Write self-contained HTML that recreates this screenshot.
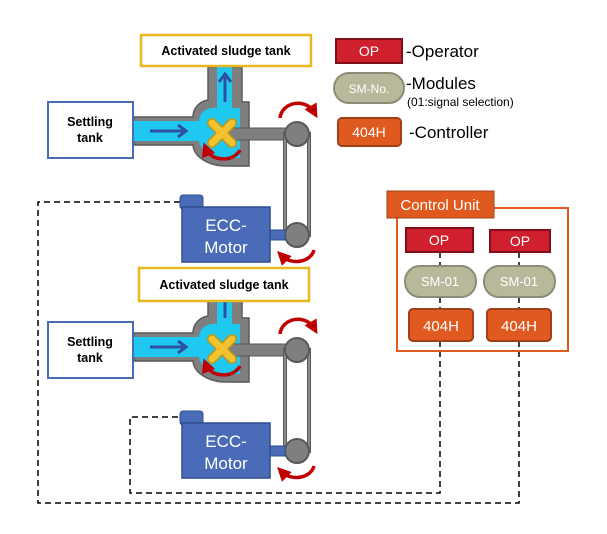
<!DOCTYPE html>
<html><head><style>body{margin:0;background:#fff}svg{display:block}</style></head><body>
<svg width="607" height="534" viewBox="0 0 607 534" xmlns="http://www.w3.org/2000/svg" font-family="Liberation Sans, Arial, sans-serif">
<defs>
<marker id="ah" viewBox="0 0 10 10" refX="5" refY="5" markerWidth="4" markerHeight="4" orient="auto"><path d="M0,0L10,5L0,10z" fill="#c00000"/></marker>
<g id="unit">
  <!-- pipes -->
  <path d="M134,117 H193 A18,17 0 0 1 208,100 V67 H242 V102 H249 V166 H226 A33,22 0 0 1 193,145 H134 Z" fill="#7f7f7f" stroke="#595959" stroke-width="1.5"/>
  <path d="M134,121 H199 A15,13 0 0 1 217,108 V67 H232 V108 H240 V158 H228 A28,18 0 0 1 199,141 H134 Z" fill="#1ec8f0"/>
  <line x1="150" y1="131" x2="183" y2="131" stroke="#2f4f9f" stroke-width="3"/>
  <path d="M178,125 L186,131 L178,137" fill="none" stroke="#2f4f9f" stroke-width="3"/>
  <line x1="225" y1="102" x2="225" y2="77" stroke="#2f4f9f" stroke-width="3"/>
  <path d="M219,82 L225,74 L231,82" fill="none" stroke="#2f4f9f" stroke-width="3"/>
  <!-- shaft -->
  <rect x="225" y="128" width="72" height="12" fill="#7f7f7f" stroke="#595959"/>
  <!-- belt -->
  <rect x="285" y="134" width="24" height="101" fill="none" stroke="#595959" stroke-width="4"/>
  <rect x="285" y="134" width="24" height="101" fill="none" stroke="#8c8c8c" stroke-width="2"/>
  <circle cx="297" cy="134" r="12" fill="#7f7f7f" stroke="#595959" stroke-width="2"/>
  <circle cx="297" cy="235" r="12" fill="#7f7f7f" stroke="#595959" stroke-width="2"/>
  <!-- X -->
  <path d="M212,123 L232,143 M232,123 L212,143" stroke="#b8961a" stroke-width="10" stroke-linecap="round"/>
  <path d="M212,123 L232,143 M232,123 L212,143" stroke="#f2c230" stroke-width="7" stroke-linecap="round"/>
  <!-- red arrows -->
  <path d="M280,118 A18,16 0 0 1 314,112" fill="none" stroke="#c00000" stroke-width="3.5" marker-end="url(#ah)"/>
  <path d="M240,150 A18,14 0 0 1 206,149" fill="none" stroke="#c00000" stroke-width="3.5" marker-end="url(#ah)"/>
  <path d="M314,250 A18,14 0 0 1 282,256" fill="none" stroke="#c00000" stroke-width="3.5" marker-end="url(#ah)"/>
  <!-- motor -->
  <rect x="268" y="230" width="17" height="10" fill="#4a6cb8" stroke="#2f4f8f"/>
  <rect x="180" y="195" width="23" height="14" rx="3" fill="#4a6cb8" stroke="#2f4f8f"/>
  <rect x="182" y="207" width="88" height="55" fill="#4a6cb8" stroke="#2f4f8f" stroke-width="1.5"/>
  <text x="226" y="231" font-size="17" fill="#fff" text-anchor="middle">ECC-</text>
  <text x="226" y="253" font-size="17" fill="#fff" text-anchor="middle">Motor</text>
</g>
</defs>
<!-- dashed lines -->
<g fill="none" stroke="#000" stroke-width="1.5" stroke-dasharray="6,4">
  <path d="M180,202 H38 V503 H519 V341"/>
  <path d="M178,417 H130 V493 H440 V341"/>
  <path d="M440,252 V266 M440,297 V308 M519,252 V266 M519,297 V308"/>
</g>
<use href="#unit"/>
<use href="#unit" transform="translate(0,216)"/>
<!-- boxes -->
<rect x="141" y="35" width="170" height="31" fill="#fff" stroke="#e8b820" stroke-width="2.5"/>
<text x="226" y="55" font-size="12.5" font-weight="bold" text-anchor="middle">Activated sludge tank</text>
<rect x="48" y="102" width="85" height="56" fill="#fff" stroke="#4a6cb8" stroke-width="2"/>
<text x="90" y="126" font-size="12.5" font-weight="bold" text-anchor="middle">Settling</text>
<text x="90" y="142" font-size="12.5" font-weight="bold" text-anchor="middle">tank</text>
<rect x="139" y="268" width="170" height="33" fill="#fff" stroke="#e8b820" stroke-width="2.5"/>
<text x="224" y="289" font-size="12.5" font-weight="bold" text-anchor="middle">Activated sludge tank</text>
<rect x="48" y="322" width="85" height="56" fill="#fff" stroke="#4a6cb8" stroke-width="2"/>
<text x="90" y="346" font-size="12.5" font-weight="bold" text-anchor="middle">Settling</text>
<text x="90" y="362" font-size="12.5" font-weight="bold" text-anchor="middle">tank</text>
<!-- legend -->
<rect x="336" y="39" width="66" height="24" fill="#d0202e" stroke="#7f1018" stroke-width="2"/>
<text x="369" y="56" font-size="14" fill="#fff" text-anchor="middle">OP</text>
<text x="406" y="57" font-size="17">-Operator</text>
<rect x="334" y="73" width="70" height="30" rx="15" fill="#b8b89a" stroke="#8c8c78" stroke-width="2"/>
<text x="369" y="93" font-size="12" fill="#fff" text-anchor="middle">SM-No.</text>
<text x="406" y="89" font-size="17">-Modules</text>
<text x="407" y="106" font-size="12">(01:signal selection)</text>
<rect x="338" y="118" width="63" height="28" rx="4" fill="#e05a20" stroke="#a0401a" stroke-width="2"/>
<text x="369" y="137" font-size="14" fill="#fff" text-anchor="middle">404H</text>
<text x="409" y="138" font-size="17">-Controller</text>
<!-- control unit -->
<rect x="397" y="208" width="171" height="143" fill="none" stroke="#e05a20" stroke-width="2"/>
<rect x="387" y="191" width="107" height="27" fill="#e05a20" stroke="#a0401a"/>
<text x="440" y="210" font-size="15" fill="#fff" text-anchor="middle">Control Unit</text>
<rect x="406" y="228" width="67" height="24" fill="#d0202e" stroke="#7f1018" stroke-width="2"/>
<text x="439" y="245" font-size="14" fill="#fff" text-anchor="middle">OP</text>
<rect x="490" y="230" width="60" height="22" fill="#d0202e" stroke="#7f1018" stroke-width="2"/>
<text x="520" y="246" font-size="14" fill="#fff" text-anchor="middle">OP</text>
<rect x="405" y="266" width="71" height="31" rx="15" fill="#b8b89a" stroke="#8c8c78" stroke-width="2"/>
<text x="440" y="286" font-size="13" fill="#fff" text-anchor="middle">SM-01</text>
<rect x="484" y="266" width="71" height="31" rx="15" fill="#b8b89a" stroke="#8c8c78" stroke-width="2"/>
<text x="519" y="286" font-size="13" fill="#fff" text-anchor="middle">SM-01</text>
<rect x="409" y="309" width="64" height="32" rx="4" fill="#e05a20" stroke="#a0401a" stroke-width="2"/>
<text x="441" y="331" font-size="15" fill="#fff" text-anchor="middle">404H</text>
<rect x="487" y="309" width="64" height="32" rx="4" fill="#e05a20" stroke="#a0401a" stroke-width="2"/>
<text x="519" y="331" font-size="15" fill="#fff" text-anchor="middle">404H</text>
</svg>
</body></html>
